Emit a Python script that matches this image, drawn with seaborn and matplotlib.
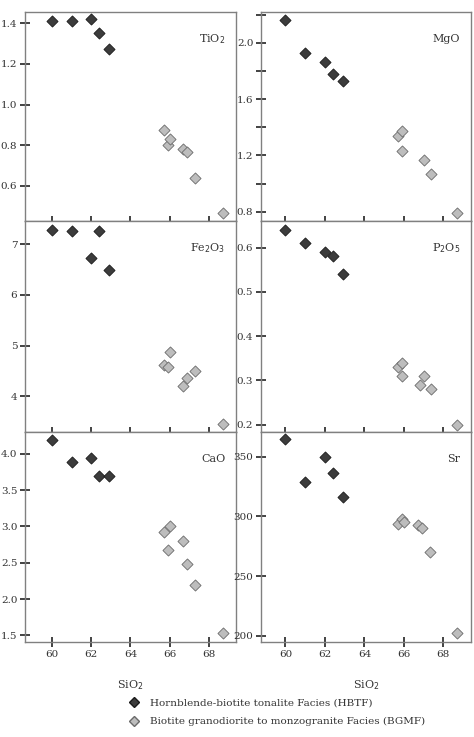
import matplotlib
matplotlib.use("Agg")
import matplotlib.pyplot as plt
from matplotlib.lines import Line2D
import pandas as pd
import seaborn as sns

# ─── DATA ────────────────────────────────────────────────────────
HBTF_SIO2 = [60.0, 61.0, 62.0, 62.4, 62.9]
BGMF_SIO2 = [65.7, 65.9, 66.0, 66.7, 66.9, 67.3, 68.7]
BGMF_SIO2_B = [65.7, 65.9, 65.9, 67.0, 67.4, 68.7]
BGMF_SIO2_C = [65.7, 65.9, 65.9, 66.8, 67.0, 67.4, 68.7]

tio2_h = [1.41, 1.41, 1.42, 1.35, 1.27]
tio2_b = [0.875, 0.80, 0.83, 0.78, 0.765, 0.64, 0.465]
mgo_h = [2.16, 1.93, 1.86, 1.78, 1.73]
mgo_b = [1.34, 1.37, 1.23, 1.17, 1.07, 0.79]
fe_h = [7.29, 7.27, 6.73, 7.27, 6.50]
fe_b = [4.61, 4.58, 4.88, 4.19, 4.35, 4.50, 3.45]
p_h = [0.64, 0.61, 0.59, 0.58, 0.54]
p_b = [0.33, 0.34, 0.31, 0.29, 0.31, 0.28, 0.20]
cao_h = [4.19, 3.89, 3.94, 3.70, 3.69]
cao_b = [2.93, 2.67, 3.00, 2.80, 2.49, 2.19, 1.53]
sr_h = [365, 329, 350, 336, 316]
sr_b = [294, 298, 295, 293, 290, 270, 202]

PANELS = [
    ("TiO$_2$", tio2_h, BGMF_SIO2, tio2_b, (0.428, 1.454), [0.6, 0.8, 1.0, 1.2, 1.4], "{:.1f}"),
    ("MgO", mgo_h, BGMF_SIO2_B, mgo_b, (0.734, 2.218), [0.8, 1.0, 1.2, 1.4, 1.6, 1.8, 2.0, 2.2], "{:.1f}"),
    ("Fe$_2$O$_3$", fe_h, BGMF_SIO2, fe_b, (3.29, 7.46), [4, 5, 6, 7], "{:.0f}"),
    ("P$_2$O$_5$", p_h, BGMF_SIO2_C, p_b, (0.183, 0.66), [0.2, 0.3, 0.4, 0.5, 0.6], "{:.1f}"),
    ("CaO", cao_h, BGMF_SIO2, cao_b, (1.41, 4.30), [1.5, 2.0, 2.5, 3.0, 3.5, 4.0], "{:.1f}"),
    ("Sr", sr_h, BGMF_SIO2, sr_b, (194.7, 370.7), [200, 250, 300, 350], "{:.0f}"),
]

DARK = "#3c3c3c"
LIGHT = "#bdbdbd"
FRAME = "#808080"

sns.set_style("white")
plt.rcParams["font.family"] = ["DejaVu Serif"]

fig = plt.figure(figsize=(4.74, 7.37), dpi=100)
lefts = [0.0527, 0.5506]
widths = [0.445, 0.443]
bottoms = [0.7001, 0.4138, 0.1289]
heights = [0.2836, 0.2863, 0.2849]

for i, (name, yh, xb, yb, ylim, yticks, fmt) in enumerate(PANELS):
    r, c = divmod(i, 2)
    ax = fig.add_axes([lefts[c], bottoms[r], widths[c], heights[r]])
    df = pd.DataFrame({"x": HBTF_SIO2 + xb, "y": yh + yb,
                       "g": ["HBTF"] * len(yh) + ["BGMF"] * len(yb)})
    sns.scatterplot(data=df[df.g == "HBTF"], x="x", y="y", marker="D", s=32,
                    color=DARK, edgecolor="#1a1a1a", linewidth=0.6, ax=ax, legend=False,
                    zorder=3, clip_on=False)
    sns.scatterplot(data=df[df.g == "BGMF"], x="x", y="y", marker="D", s=32,
                    color=LIGHT, edgecolor="#6a6a6a", linewidth=0.6, ax=ax, legend=False,
                    zorder=3, clip_on=False)
    xlim = (58.62, 69.38) if c == 0 else (58.76, 69.4)
    ax.set_xlim(xlim)
    ax.set_ylim(ylim)
    ax.set_xticks([60, 62, 64, 66, 68])
    ax.set_yticks(yticks)
    if name == "MgO":
        ax.set_yticklabels([fmt.format(v) if v in (0.8, 1.2, 1.6, 2.0) else "" for v in yticks])
    else:
        ax.set_yticklabels([fmt.format(v) for v in yticks])
    ax.tick_params(left=True, bottom=True, direction="inout", length=7, width=1.2,
                   color="#222222", labelsize=7.5, pad=2, labelcolor="#333333")
    if r < 2:
        ax.set_xticklabels([])
        ax.set_xlabel("")
    else:
        ax.set_xlabel("SiO$_2$", fontsize=8, labelpad=14, color="#333333")
    ax.set_ylabel("")
    for sp in ax.spines.values():
        sp.set_color(FRAME)
        sp.set_linewidth(1.0)
    ax.text(0.95, 0.87, name, transform=ax.transAxes, ha="right", va="center",
            fontsize=8, color="#333333")

handles = [
    Line2D([], [], marker="D", ls="", color=DARK, markeredgecolor="#1a1a1a", markersize=5.5,
           label="Hornblende-biotite tonalite Facies (HBTF)"),
    Line2D([], [], marker="D", ls="", color=LIGHT, markeredgecolor="#6a6a6a", markersize=5.5,
           label="Biotite granodiorite to monzogranite Facies (BGMF)"),
]
fig.legend(handles=handles, loc="upper left", bbox_to_anchor=(0.24, 0.065), frameon=False,
           fontsize=7.5, handletextpad=0.6, labelspacing=0.9, labelcolor="#333333")

fig.savefig("out.png", dpi=100, facecolor="white")
